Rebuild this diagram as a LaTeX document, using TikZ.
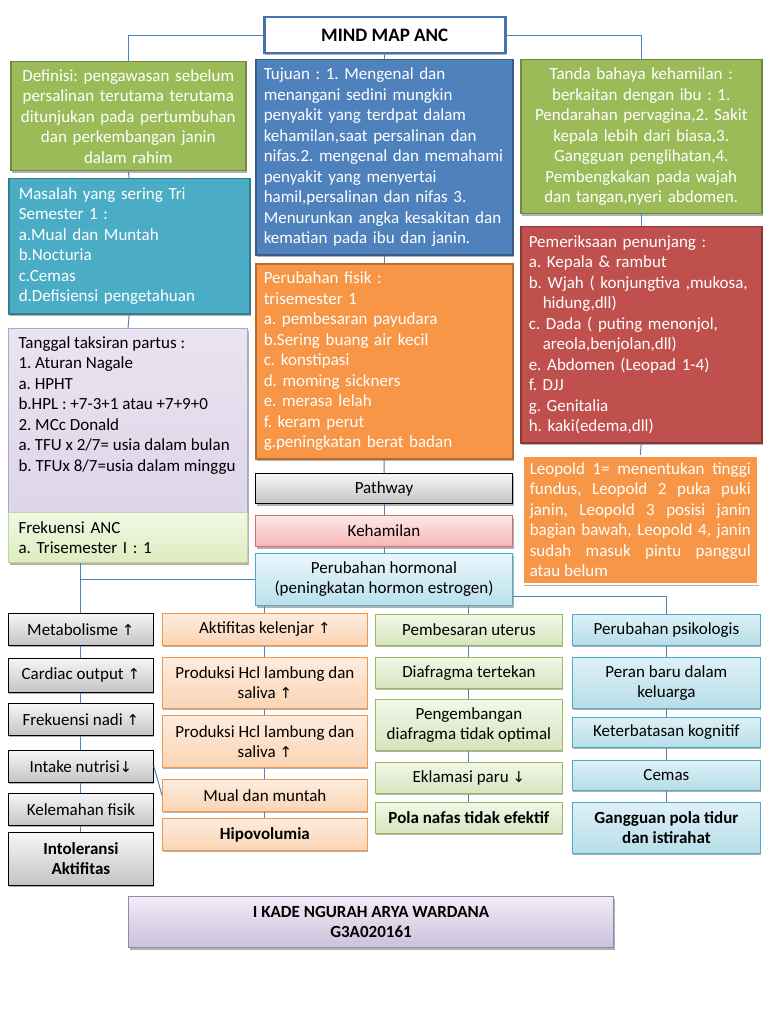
\documentclass[tikz,border=0pt]{standalone}
\usepackage{fontspec}
\setmainfont{Carlito}
\newfontfamily\arrowfont{DejaVu Sans}
\usetikzlibrary{shadows,calc}
\frenchspacing
\definecolor{linkblue}{RGB}{79,129,189}
\definecolor{judulline}{RGB}{70,115,175}
\definecolor{defgreen}{RGB}{155,187,89}
\definecolor{defline}{RGB}{113,137,63}
\definecolor{masteal}{RGB}{75,172,198}
\definecolor{masline}{RGB}{53,125,145}
\definecolor{tujblue}{RGB}{79,129,189}
\definecolor{tujline}{RGB}{56,93,138}
\definecolor{fisorange}{RGB}{247,150,70}
\definecolor{fisline}{RGB}{182,109,49}
\definecolor{perred}{RGB}{192,80,77}
\definecolor{perline}{RGB}{140,56,54}
\definecolor{lavtop}{RGB}{234,228,241}
\definecolor{lavbot}{RGB}{221,213,233}
\definecolor{lavline}{RGB}{180,165,200}
\definecolor{frektop}{RGB}{241,248,229}
\definecolor{frekbot}{RGB}{220,236,190}
\definecolor{frekline}{RGB}{195,214,155}
\definecolor{abutop}{RGB}{246,246,246}
\definecolor{abubot}{RGB}{196,196,196}
\definecolor{pinktop}{RGB}{253,232,232}
\definecolor{pinkbot}{RGB}{246,182,182}
\definecolor{pinkline}{RGB}{217,110,110}
\definecolor{hormtop}{RGB}{234,247,252}
\definecolor{hormbot}{RGB}{186,224,236}
\definecolor{jinggatop}{RGB}{253,236,222}
\definecolor{jinggabot}{RGB}{251,212,180}
\definecolor{hijautop}{RGB}{242,247,232}
\definecolor{hijaubot}{RGB}{215,228,189}
\definecolor{birutop}{RGB}{222,240,247}
\definecolor{birubot}{RGB}{183,222,232}
\definecolor{namatop}{RGB}{240,236,246}
\definecolor{namabot}{RGB}{205,193,220}
\definecolor{namaline}{RGB}{150,135,175}
\newcommand{\naik}{{\arrowfont\fontsize{15pt}{20pt}\selectfont ↑}}
\newcommand{\turun}{{\arrowfont\fontsize{15pt}{20pt}\selectfont ↓}}
\tikzset{
  % teks isi kotak
  every node/.append style={font=\fontsize{17pt}{20.5pt}\selectfont},
  % bayangan kotak
  bayang/.style={drop shadow={shadow xshift=1pt, shadow yshift=-2pt, fill=black, opacity=0.3}},
}

\begin{document}
\begin{tikzpicture}[
    x=1pt, y=-1pt,
    box/.style={rectangle, anchor=north west, inner ysep=1pt, line width=1.5pt, bayang},
    isi/.style={box, text=white, align=left, inner xsep=8pt},
    tengah/.style={box, text=white, align=center, inner xsep=5pt},
    kecil/.style={rectangle, anchor=north west, inner sep=1pt, align=center, line width=0.8pt,
      font=\fontsize{17pt}{20pt}\selectfont, bayang},
    abu/.style={kecil, draw=black, top color=abutop, bottom color=abubot, minimum width=145pt},
    jingga/.style={kecil, draw=fisorange, top color=jinggatop, bottom color=jinggabot, minimum width=205pt},
    hijau/.style={kecil, draw=defgreen, top color=hijautop, bottom color=hijaubot, minimum width=187pt},
    biru/.style={kecil, draw=masteal, top color=birutop, bottom color=birubot, minimum width=188pt},
    tebal/.style={font=\fontsize{17pt}{20pt}\selectfont\bfseries},
    link/.style={draw=linkblue, line width=1pt}
  ]
  \useasboundingbox (0,0) rectangle (768,1024);

  % Judul
  \node[box, draw=judulline, fill=white, line width=2.5pt, inner sep=0pt, minimum width=241pt,
    minimum height=36pt, font=\fontsize{19pt}{22pt}\selectfont\bfseries] (judul) at (263,16) {MIND MAP ANC};

  % Kolom kiri atas
  \node[tengah, fill=defgreen, draw=defline, text width=225pt, minimum height=109pt] (definisi) at (10,61)
    {Definisi: pengawasan sebelum\\persalinan terutama terutama\\ditunjukan pada pertumbuhan\\dan perkembangan janin\\dalam rahim};
  \node[isi, fill=masteal, draw=masline, inner xsep=10pt, text width=221pt, minimum height=135pt] (masalah) at (8,178)
    {Masalah yang sering Tri\\Semester 1 :\\a.Mual dan Muntah\\b.Nocturia\\c.Cemas\\d.Defisiensi pengetahuan};
  \node[box, draw=lavline, top color=lavtop, bottom color=lavbot, line width=1pt, inner xsep=10pt, inner ysep=8pt] (tanggal) at (8,328)
    {\parbox[c][168pt][t]{219pt}{\raggedright Tanggal taksiran partus :\\1. Aturan Nagale\\a. HPHT\\b.HPL : +7-3+1 atau +7+9+0\\2. MCc Donald\\a. TFU x 2/7= usia dalam bulan\\b. TFUx 8/7=usia dalam minggu}};
  \node[box, draw=frekline, top color=frektop, bottom color=frekbot, line width=1pt, align=left, inner xsep=10pt,
    text width=219pt, minimum height=50pt] (frekanc) at (8,512) {Frekuensi ANC\\a. Trisemester I : 1};

  % Kolom tengah atas
  \node[isi, fill=tujblue, draw=tujline, text width=241pt, minimum height=195pt] (tujuan) at (255,59)
    {Tujuan : 1. Mengenal dan\\menangani sedini mungkin\\penyakit yang terdpat dalam\\kehamilan,saat persalinan dan\\nifas.2. mengenal dan memahami\\penyakit yang menyertai\\hamil,persalinan dan nifas 3.\\Menurunkan angka kesakitan dan\\kematian pada ibu dan janin.};
  \node[isi, fill=fisorange, draw=fisline, text width=241pt, minimum height=195pt] (fisik) at (255,263)
    {Perubahan fisik :\\trisemester 1\\a. pembesaran payudara\\b.Sering buang air kecil\\c. konstipasi\\d. moming sickners\\e. merasa lelah\\f. keram perut\\g.peningkatan berat badan};
  \node[box, draw=black, top color=abutop, bottom color=abubot, line width=1pt, minimum width=257pt,
    minimum height=30pt] (pathway) at (255,473) {Pathway};
  \node[box, draw=pinkline, top color=pinktop, bottom color=pinkbot, line width=1pt, minimum width=257pt,
    minimum height=31pt] (kehamilan) at (255,515) {Kehamilan};
  \node[box, draw=masteal, top color=hormtop, bottom color=hormbot, line width=1pt, align=center, minimum width=257pt,
    minimum height=52pt, font=\fontsize{17pt}{20pt}\selectfont] (hormonal) at (255,553) {Perubahan hormonal\\(peningkatan hormon estrogen)};

  % Kolom kanan atas
  \node[tengah, fill=defgreen, draw=defline, text width=231pt, minimum height=154pt] (tanda) at (520,59)
    {Tanda bahaya kehamilan :\\berkaitan dengan ibu : 1.\\Pendarahan pervagina,2. Sakit\\kepala lebih dari biasa,3.\\Gangguan penglihatan,4.\\Pembengkakan pada wajah\\dan tangan,nyeri abdomen.};
  \node[isi, fill=perred, draw=perline, text width=225pt, minimum height=216pt] (periksa) at (520,226)
    {Pemeriksaan penunjang :\\a. Kepala \& rambut\\b. Wjah ( konjungtiva ,mukosa,\\\hspace*{14pt}hidung,dll)\\c. Dada ( puting menonjol,\\\hspace*{14pt}areola,benjolan,dll)\\e. Abdomen (Leopad 1-4)\\f. DJJ\\g. Genitalia\\h. kaki(edema,dll)};
  \node[box, fill=fisorange, draw=white, text=white, align=justify, inner xsep=7pt, text width=221pt,
    minimum height=128pt] (leopold) at (522,455)
    {Leopold 1= menentukan tinggi\linebreak fundus, Leopold 2 puka puki\linebreak janin, Leopold 3 posisi janin\linebreak bagian bawah, Leopold 4, janin\linebreak sudah masuk pintu panggul\linebreak atau belum};

  % Pathway bawah
  \node[abu, minimum height=32pt] (metab) at (8,613) {Metabolisme \naik};
  \node[abu, minimum height=34pt] (cardiac) at (8,658) {Cardiac output \naik};
  \node[abu, minimum height=32pt] (nadi) at (8,703) {Frekuensi nadi \naik};
  \node[abu, minimum height=32pt] (intake) at (8,750) {Intake nutrisi\turun};
  \node[abu, minimum height=32pt] (lemah) at (8,793) {Kelemahan fisik};
  \node[abu, tebal, minimum height=53pt] (intol) at (8,832) {Intoleransi\\Aktifitas};

  \node[jingga, minimum height=32pt] (aktif) at (162,613) {Aktifitas kelenjar \naik};
  \node[jingga, minimum height=51pt] (hcla) at (162,657) {Produksi Hcl lambung dan\\saliva \naik};
  \node[jingga, minimum height=52pt] (hclb) at (162,715) {Produksi Hcl lambung dan\\saliva \naik};
  \node[jingga, minimum height=32pt] (mual) at (162,779) {Mual dan muntah};
  \node[jingga, tebal, minimum height=32pt] (hipo) at (162,818) {Hipovolumia};

  \node[hijau, minimum height=31pt] (uterus) at (375,614) {Pembesaran uterus};
  \node[hijau, minimum height=31pt] (diaf) at (375,657) {Diafragma tertekan};
  \node[hijau, minimum height=51pt] (kembang) at (375,699) {Pengembangan\\diafragma tidak optimal};
  \node[hijau, minimum height=31pt] (eklam) at (375,762) {Eklamasi paru \turun};
  \node[hijau, tebal, minimum height=31pt] (pola) at (375,802) {Pola nafas tidak efektif};

  \node[biru, minimum height=31pt] (psiko) at (572,614) {Perubahan psikologis};
  \node[biru, minimum height=51pt] (peran) at (572,657) {Peran baru dalam\\keluarga};
  \node[biru, minimum height=30pt] (kogni) at (572,717) {Keterbatasan kognitif};
  \node[biru, minimum height=30pt] (cemas) at (572,760) {Cemas};
  \node[biru, tebal, minimum height=51pt] (tidur) at (572,802) {Gangguan pola tidur\\dan istirahat};

  % Nama
  \node[box, draw=namaline, top color=namatop, bottom color=namabot, line width=1pt, align=center, minimum width=485pt,
    minimum height=51pt, font=\fontsize{17pt}{20pt}\selectfont\bfseries] (nama) at (128,896) {I KADE NGURAH ARYA WARDANA\\G3A020161};

  % Garis penghubung
  \draw[link] (judul.west) -| (definisi.north);
  \draw[link] (judul.east) -| (tanda.north);
  \draw[link] (judul.south) -- (tujuan.north);
  \draw[link] (definisi.south) -- (masalah.north);
  \draw[link] (masalah.south) -- (tanggal.north);
  \draw[link] (tujuan.south) -- (fisik.north);
  \draw[link] (fisik.south) -- (pathway.north);
  \draw[link] (pathway.south) -- (kehamilan.north);
  \draw[link] (kehamilan.south) -- (hormonal.north);
  \draw[link] (tanda.south) -- (periksa.north);
  \draw[link] (periksa.south) -- (leopold.north);
  \draw[link] (hormonal.west) -- (hormonal.west -| metab.north);
  \draw[link] (frekanc.south -| metab.north) -- (metab.north);
  \draw[link] (hormonal.south -| aktif.north) -- (aktif.north);
  \draw[link] (hormonal.south -| uterus.north) -- (uterus.north);
  \draw[link] ($(hormonal.east)+(0,17)$) -| (psiko.north);
  \draw[link] (intake.east) -- (mual.west);
  \foreach \a/\b in {metab/cardiac, cardiac/nadi, nadi/intake, intake/lemah, lemah/intol,
    aktif/hcla, hcla/hclb, hclb/mual, mual/hipo,
    uterus/diaf, diaf/kembang, kembang/eklam, eklam/pola,
    psiko/peran, peran/kogni, kogni/cemas, cemas/tidur}
    \draw[link] (\a.south) -- (\b.north);
\end{tikzpicture}
\end{document}
